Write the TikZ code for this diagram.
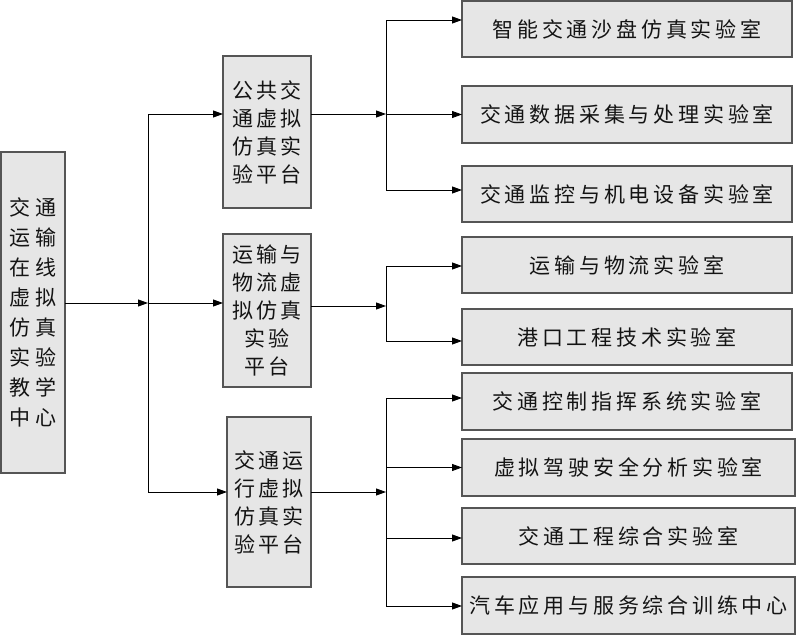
\documentclass[tikz,border=0pt]{standalone}
\usepackage{fontspec}
\setmainfont{Noto Sans CJK SC}
\usetikzlibrary{arrows.meta}
\definecolor{boxfill}{RGB}{230,230,230}
\definecolor{boxline}{RGB}{85,85,85}
\definecolor{txt}{RGB}{20,20,20}
\begin{document}
\begin{tikzpicture}[x=1pt,y=-1pt,
  box/.style={draw=boxline, line width=1.2pt, fill=boxfill, inner sep=0pt, outer sep=0pt, align=center, text=txt},
  centerbox/.style={box, font=\fontsize{21}{30}\selectfont\addfontfeatures{LetterSpace=28}},
  platbox/.style={box, font=\fontsize{21}{28}\selectfont\addfontfeatures{LetterSpace=15}},
  labbox/.style={box, font=\fontsize{21}{26}\selectfont\addfontfeatures{LetterSpace=18}},
  wire/.style={line width=0.9pt, draw=black},
  conn/.style={wire, -{Triangle[length=10pt,width=7pt]}}]
\useasboundingbox (0,0) rectangle (796,635);

% centre box
\node[centerbox, minimum width=64pt, minimum height=321pt] (c) at (33,312.5)
  {交通\\运输\\在线\\虚拟\\仿真\\实验\\教学\\中心};

% platforms
\node[platbox, minimum width=88pt, minimum height=152pt] (p1) at (267,132)
  {公共交\\通虚拟\\仿真实\\验平台};
\node[platbox, minimum width=88pt, minimum height=153pt] (p2) at (267,310.5)
  {运输与\\物流虚\\拟仿真\\实验\\平台};
\node[platbox, minimum width=84pt, minimum height=170pt] (p3) at (269,502)
  {交通运\\行虚拟\\仿真实\\验平台};

% laboratories
\node[labbox, minimum width=330pt, minimum height=56pt] (r1) at (627,29) {智能交通沙盘仿真实验室};
\node[labbox, minimum width=330pt, minimum height=57pt] (r2) at (627,114.5) {交通数据采集与处理实验室};
\node[labbox, minimum width=330pt, minimum height=56pt] (r3) at (627,194) {交通监控与机电设备实验室};
\node[labbox, minimum width=330pt, minimum height=56pt] (r4) at (627,265) {运输与物流实验室};
\node[labbox, minimum width=330pt, minimum height=56pt] (r5) at (627,337) {港口工程技术实验室};
\node[labbox, minimum width=330pt, minimum height=57pt] (r6) at (627,401.5) {交通控制指挥系统实验室};
\node[labbox, minimum width=333pt, minimum height=57pt] (r7) at (628.5,467.5) {虚拟驾驶安全分析实验室};
\node[labbox, minimum width=333pt, minimum height=56pt] (r8) at (628.5,536) {交通工程综合实验室};
\node[labbox, minimum width=333pt, minimum height=57pt] (r9) at (628.5,605.5) {汽车应用与服务综合训练中心};

% connection points
\coordinate (c0) at ([yshift=9.5pt]c.east);
\coordinate (bus) at (148,303);
\coordinate (p1in) at ([yshift=18pt]p1.west);
\coordinate (p2in) at ([yshift=7.5pt]p2.west);
\coordinate (p3in) at ([yshift=10pt]p3.west);
\coordinate (p1out) at ([yshift=18pt]p1.east);
\coordinate (p2out) at ([yshift=4.5pt]p2.east);
\coordinate (p3out) at ([yshift=10pt]p3.east);
\coordinate (j1) at (386,114);
\coordinate (j2) at (386,306);
\coordinate (j3) at (386,492);
\coordinate (t1) at ([yshift=9pt]r1.west);
\coordinate (t2) at (r2.west);
\coordinate (t3) at ([yshift=4pt]r3.west);
\coordinate (t4) at ([yshift=-1pt]r4.west);
\coordinate (t5) at ([yshift=-4pt]r5.west);
\coordinate (t6) at ([yshift=3.5pt]r6.west);
\coordinate (t7) at (r7.west);
\coordinate (t8) at ([yshift=-2pt]r8.west);
\coordinate (t9) at ([yshift=-0.5pt]r9.west);

% centre to platforms
\draw[conn] (c0) -- (bus);
\draw[wire] (bus |- p1in) -- (bus |- p3in);
\draw[conn] (bus |- p1in) -- (p1in);
\draw[conn] (bus |- p2in) -- (p2in);
\draw[conn] (bus |- p3in) -- (p3in);

% platform 1
\draw[conn] (p1out) -- (j1);
\draw[wire] (j1 |- t1) -- (j1 |- t3);
\draw[conn] (j1 |- t1) -- (t1);
\draw[conn] (j1 |- t2) -- (t2);
\draw[conn] (j1 |- t3) -- (t3);

% platform 2
\draw[conn] (p2out) -- (j2);
\draw[wire] (j2 |- t4) -- (j2 |- t5);
\draw[conn] (j2 |- t4) -- (t4);
\draw[conn] (j2 |- t5) -- (t5);

% platform 3
\draw[conn] (p3out) -- (j3);
\draw[wire] (j3 |- t6) -- (j3 |- t9);
\draw[conn] (j3 |- t6) -- (t6);
\draw[conn] (j3 |- t7) -- (t7);
\draw[conn] (j3 |- t8) -- (t8);
\draw[conn] (j3 |- t9) -- (t9);
\end{tikzpicture}
\end{document}
